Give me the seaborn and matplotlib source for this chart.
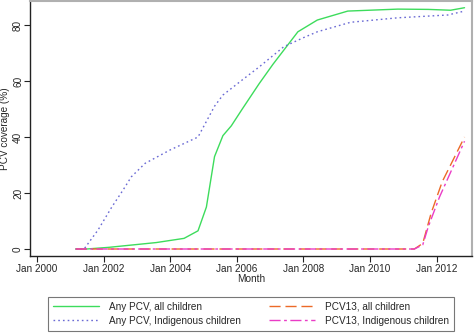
import matplotlib
matplotlib.use("Agg")
import matplotlib.pyplot as plt
import matplotlib.dates as mdates
import seaborn as sns
import pandas as pd

sns.set_style("ticks")
plt.rcParams['font.family'] = ['Liberation Sans', 'DejaVu Sans']
plt.rcParams['font.size'] = 7.2

# Any PCV, all children
any_all_months = ["2001-03", "2001-07", "2002-03", "2003-08", "2004-06", "2004-11",
                  "2005-02", "2005-05", "2005-08", "2005-11", "2006-03", "2006-09",
                  "2007-02", "2007-11", "2008-06", "2009-05", "2010-11", "2011-10",
                  "2012-06", "2012-11"]
any_all_vals = [0, 0, 0.6, 2.3, 3.8, 6.5, 15, 33, 40.5, 44, 50, 59, 66, 77.6, 81.8,
                85, 85.7, 85.6, 85.3, 86.2]

# Any PCV, Indigenous children
any_ind_months = ["2001-03", "2001-06", "2001-11", "2002-04", "2002-08", "2002-11",
                  "2003-04", "2004-01", "2004-11", "2005-05", "2005-08", "2006-03",
                  "2006-09", "2007-06", "2008-01", "2008-06", "2009-06", "2010-11",
                  "2012-05", "2012-11"]
any_ind_vals = [0, 0, 6.8, 15, 21, 25.8, 30.6, 35.4, 40, 51, 55, 60.4, 65, 72.3,
                75.5, 77.6, 81, 82.6, 83.6, 85]

# PCV13, all children
p13_all_months = ["2001-03", "2011-05", "2011-08", "2011-11", "2012-03", "2012-11"]
p13_all_vals = [0, 0, 2, 12.8, 24, 40]

# PCV13, Indigenous children
p13_ind_months = ["2001-03", "2011-05", "2011-08", "2011-10", "2012-02", "2012-11"]
p13_ind_vals = [0, 0, 1.5, 8, 18.6, 38.5]

labels = ["Any PCV, all children", "Any PCV, Indigenous children",
          "PCV13, all children", "PCV13, Indigenous children"]
y_ticks = [0, 20, 40, 60, 80]

fig = plt.figure(figsize=(4.74, 3.35), dpi=100)
ax = fig.add_axes([30 / 474, 1 - 256 / 335, 442 / 474, 255 / 335])

series = [
    (any_all_months, any_all_vals, labels[0], "#3ddc5c", "-", None),
    (any_ind_months, any_ind_vals, labels[1], "#6a6ad4", "--", (1.2, 2.2)),
    (p13_all_months, p13_all_vals, labels[2], "#ec6a28", "--", (8, 3.5)),
    (p13_ind_months, p13_ind_vals, labels[3], "#ea3cc6", "--", (8, 2.5, 2, 2.5)),
]
handles = []
for months, vals, lab, col, ls, dash in series:
    df = pd.DataFrame({"month": pd.to_datetime(months), "value": vals})
    sns.lineplot(data=df, x="month", y="value", ax=ax, color=col, lw=1.0, label=lab)
    line = ax.lines[-1]
    if dash is not None:
        line.set_dashes(dash)
    handles.append(line)

ax.get_legend().remove()
ax.set_xlim(pd.Timestamp("1999-10-17"), pd.Timestamp("2013-01-22"))
ax.set_ylim(-2.5, 88.6)
ax.xaxis.set_major_locator(mdates.YearLocator(2, month=1, day=1))
ax.xaxis.set_major_formatter(mdates.DateFormatter("%b %Y"))
ax.set_yticks(y_ticks)
for t in ax.get_yticklabels():
    t.set_rotation(90)
    t.set_va("center")
ax.tick_params(axis="both", length=4, width=0.8, color="#222222", labelsize=7.2, pad=2)
ax.tick_params(axis="y", pad=1)
ax.set_xlabel("Month", fontsize=7.2, labelpad=0)
ax.set_ylabel("PCV coverage (%)", fontsize=7.2, labelpad=1)
ax.yaxis.set_label_coords(-20 / 442, 0.5)
for s in ["left", "bottom"]:
    ax.spines[s].set_color("#222222")
    ax.spines[s].set_linewidth(1.0)
for s in ["top", "right"]:
    ax.spines[s].set_visible(True)
    ax.spines[s].set_color("#b0b0b0")
    ax.spines[s].set_linewidth(1.5)

leg = fig.legend(handles=handles, labels=labels, ncol=2, loc="center",
                 bbox_to_anchor=(251 / 474, 1 - 313.5 / 335), frameon=True,
                 fancybox=False, handlelength=4.6, columnspacing=2.8,
                 handletextpad=1.0, borderpad=0.5, labelspacing=0.4, fontsize=7.2)
leg.get_frame().set_edgecolor("#555555")
leg.get_frame().set_linewidth(0.8)

fig.savefig("out.png", dpi=100)
